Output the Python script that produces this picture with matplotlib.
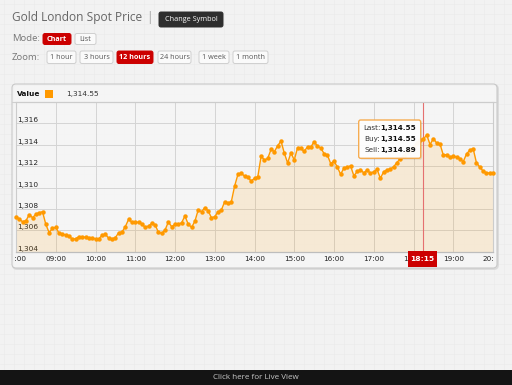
import numpy as np
import matplotlib
matplotlib.use("Agg")
import matplotlib.pyplot as plt
from matplotlib.patches import FancyBboxPatch, Rectangle
from matplotlib.transforms import Bbox, TransformedBbox

# ---------------- data ----------------
values = [
    1307.27, 1307.03, 1306.80, 1306.90, 1307.46, 1307.18, 1307.50, 1307.64, 1307.74, 1306.56,
    1305.78, 1306.19, 1306.28, 1305.72, 1305.65, 1305.56, 1305.47, 1305.16, 1305.21, 1305.40,
    1305.35, 1305.35, 1305.28, 1305.31, 1305.19, 1305.21, 1305.53, 1305.63, 1305.25, 1305.19,
    1305.31, 1305.78, 1305.84, 1306.34, 1307.03, 1306.75, 1306.75, 1306.75, 1306.59, 1306.28,
    1306.40, 1306.65, 1306.50, 1305.81, 1305.72, 1306.03, 1306.78, 1306.34, 1306.56, 1306.56,
    1306.71, 1307.34, 1306.56, 1306.28, 1306.84, 1307.90, 1307.74, 1308.11, 1307.83, 1307.18,
    1307.27, 1307.74, 1307.90, 1308.67, 1308.52, 1308.67, 1310.14, 1311.23, 1311.33, 1311.07,
    1310.95, 1310.61, 1310.86, 1311.01, 1312.94, 1312.57, 1312.73, 1313.57, 1313.35, 1313.91,
    1314.35, 1313.22, 1312.29, 1313.25, 1312.57, 1313.72, 1313.66, 1313.38, 1313.81, 1313.79,
    1314.28, 1313.88, 1313.69, 1313.18, 1313.04, 1312.24, 1312.48, 1311.92, 1311.24, 1311.82,
    1311.89, 1312.03, 1311.09, 1311.50, 1311.68, 1311.36, 1311.64, 1311.33, 1311.48, 1311.70,
    1310.86, 1311.48, 1311.64, 1311.73, 1311.94, 1312.34, 1312.69, 1312.99, 1313.32, 1313.55,
    1313.79, 1314.16, 1314.44, 1314.55, 1314.91, 1314.02, 1314.58, 1314.16, 1314.07, 1313.04,
    1313.08, 1312.82, 1312.94, 1312.85, 1312.71, 1312.41, 1313.13, 1313.50, 1313.64, 1312.32,
    1311.92, 1311.54, 1311.36, 1311.36, 1311.40,
]
start_hour = 8.0
step_minutes = 5
hours = start_hour + np.arange(len(values)) * step_minutes / 60.0

tick_hours = list(range(8, 21))
tick_labels = ["%02d:00" % h for h in tick_hours]
y_ticks = [1304, 1306, 1308, 1310, 1312, 1314, 1316]
y_tick_labels = ["1,304", "1,306", "1,308", "1,310", "1,312", "1,314", "1,316"]
y_min, y_max = 1303.97, 1318.0

series_name = "Value"
legend_value = "1,314.55"
hover_hour = 18.25
hover_label = "18:15"
tooltip_rows = [("Last:", "1,314.55"), ("Buy:", "1,314.55"), ("Sell:", "1,314.89")]

title = "Gold London Spot Price"
mode_buttons = ["Chart", "List"]
zoom_buttons = ["1 hour", "3 hours", "12 hours", "24 hours", "1 week", "1 month"]
footer_text = "Click here for Live View"

# ---------------- figure ----------------
W, H = 512, 385
fig = plt.figure(figsize=(W / 100, H / 100), dpi=100)
fig.patch.set_facecolor("#f2f2f2")

bg = fig.add_axes([0, 0, 1, 1], zorder=0)
bg.set_xlim(0, W)
bg.set_ylim(H, 0)
bg.axis("off")

# faint page grid
for gx in np.arange(4, W, 10):
    bg.plot([gx, gx], [0, H], color="#eaeaea", lw=0.4, zorder=0)
for gy in np.arange(4, H, 10):
    bg.plot([0, W], [gy, gy], color="#eaeaea", lw=0.4, zorder=0)

HF = "Open Sans"


def button(x0, x1, y0, y1, text, style="plain", fs=5.2):
    if style == "red":
        fc, ec, tc, fw = "#cc0000", "#cc0000", "white", "bold"
    elif style == "dark":
        fc, ec, tc, fw = "#2e2e2e", "#2e2e2e", "white", "normal"
    else:
        fc, ec, tc, fw = "#fafafa", "#cfcfcf", "#555555", "normal"
    bg.add_patch(FancyBboxPatch((x0, y0), x1 - x0, y1 - y0,
                                boxstyle="round,pad=0,rounding_size=2",
                                fc=fc, ec=ec, lw=0.7, zorder=3))
    bg.text((x0 + x1) / 2, (y0 + y1) / 2 + 0.3, text, ha="center", va="center",
            color=tc, fontsize=fs, family=HF, fontweight=fw, zorder=4)


# header
bg.text(12, 18, title, fontsize=8.6, family=HF, color="#666666", va="center", zorder=4)
bg.text(149, 18, "|", fontsize=8.6, family=HF, color="#999999", va="center", ha="center", zorder=4)
button(159, 223, 12, 27, "Change Symbol", "dark", fs=5.2)

bg.text(12, 38.5, "Mode:", fontsize=6.8, family=HF, color="#777777", va="center", zorder=4)
button(43, 71, 33.5, 44.5, mode_buttons[0], "red")
button(75, 96, 33.5, 44.5, mode_buttons[1])

bg.text(12, 57, "Zoom:", fontsize=6.8, family=HF, color="#777777", va="center", zorder=4)
zx = [(47, 76), (80, 113), (117, 153), (158, 191), (199, 229), (233, 268)]
for (a, b), lbl in zip(zx, zoom_buttons):
    button(a, b, 51, 63.5, lbl, "red" if lbl == "12 hours" else "plain")

# chart panel
bg.add_patch(FancyBboxPatch((13, 85), 485, 184, boxstyle="round,pad=0,rounding_size=4",
                            fc="none", ec="#dadada", lw=1.3, zorder=2))
bg.add_patch(FancyBboxPatch((12, 84), 485, 184, boxstyle="round,pad=0,rounding_size=4",
                            fc="#f6f6f6", ec="#c2c2c2", lw=0.8, alpha=0.85, zorder=2))
bg.plot([12, 497], [101.8, 101.8], color="#cfcfcf", lw=0.8, zorder=3)

# legend row
bg.text(16.5, 94.3, series_name, fontsize=5.3, fontweight="bold", color="#111111",
        va="center", zorder=4)
bg.add_patch(Rectangle((45, 90), 8, 8, fc="#ff9900", ec="none", zorder=4))
bg.text(66.5, 94.3, legend_value, fontsize=5.3, color="#333333", va="center", zorder=4)

# footer
bg.add_patch(Rectangle((0, 370), W, 15, fc="#141414", ec="none", zorder=5))
bg.text(W / 2, 377.5, footer_text, fontsize=5.8, family=HF, color="#c8c8c8",
        ha="center", va="center", zorder=6)

# ---------------- data axes ----------------
px0, px1, py0, py1 = 16, 493, 102, 252
ax = fig.add_axes([px0 / W, (H - py1) / H, (px1 - px0) / W, (py1 - py0) / H], zorder=1)
ax.patch.set_alpha(0)
ax.set_xlim(8.0, 20.0)
ax.set_ylim(y_min, y_max)

ax.fill_between(hours, values, y_min, color="#ff9900", alpha=0.13, lw=0, zorder=1)
ax.axvline(hover_hour, color="#e57070", lw=0.8, zorder=2)
ax.plot(hours, values, color="#ff9900", lw=1.0, marker="o", markersize=3.2,
        markeredgewidth=0, zorder=3, clip_on=False)

ax.set_xticks(tick_hours)
ax.set_xticklabels(tick_labels)
ax.set_yticks(y_ticks)
ax.set_yticklabels(y_tick_labels)
ax.grid(True, color="#d4d4d4", lw=0.7, zorder=0)
ax.set_axisbelow(True)
ax.tick_params(axis="x", length=0, pad=2.6, labelsize=5.2, labelcolor="#222222")
ax.tick_params(axis="y", length=0, pad=-1.0, labelsize=5.3, labelcolor="#222222")
for lbl in ax.get_yticklabels():
    lbl.set_horizontalalignment("left")
    lbl.set_verticalalignment("bottom")

clipbox = TransformedBbox(Bbox([[-0.004, -0.3], [1, 1]]), ax.transAxes)
# the crosshair time badge hides the right part of the label under it
badge_left_px = 407.7
clip_under_badge = Bbox([[0, 0], [badge_left_px, H]])
for tk, lbl in zip(tick_hours, ax.get_xticklabels()):
    lbl.set_clip_on(True)
    if abs(tk - hover_hour) < 0.5:
        lbl.set_clip_box(clip_under_badge)
    else:
        lbl.set_clip_box(clipbox)
for s in ["left", "right", "top"]:
    ax.spines[s].set_color("#cccccc")
    ax.spines[s].set_linewidth(0.8)
ax.spines["bottom"].set_color("#bdbdbd")
ax.spines["bottom"].set_linewidth(0.9)

# ---------------- overlay (tooltip, crosshair label) ----------------
ov = fig.add_axes([0, 0, 1, 1], zorder=2)
ov.set_xlim(0, W)
ov.set_ylim(H, 0)
ov.axis("off")
ov.patch.set_alpha(0)

ov.add_patch(Rectangle((badge_left_px, 251), 29, 15.5, fc="#cc0000", ec="none"))
ov.text(badge_left_px + 14.5, 258.9, hover_label, color="white", fontsize=5.4,
        fontweight="bold", ha="center", va="center")

ov.add_patch(FancyBboxPatch((360, 121.5), 62, 38.3, boxstyle="round,pad=0,rounding_size=2",
                            fc="#000000", ec="none", alpha=0.08))
ov.add_patch(FancyBboxPatch((358.7, 120), 62, 38.3, boxstyle="round,pad=0,rounding_size=2",
                            fc="white", ec="#f5a849", lw=1.0, alpha=0.95))
for (lab, val), yy in zip(tooltip_rows, [127.7, 138.9, 150.1]):
    ov.text(380.6, yy, lab, fontsize=5.2, color="#333333", ha="right", va="center")
    ov.text(380.6, yy, val, fontsize=5.2, color="#111111", fontweight="bold",
            ha="left", va="center")

fig.savefig("out.png", dpi=100, facecolor=fig.get_facecolor())
